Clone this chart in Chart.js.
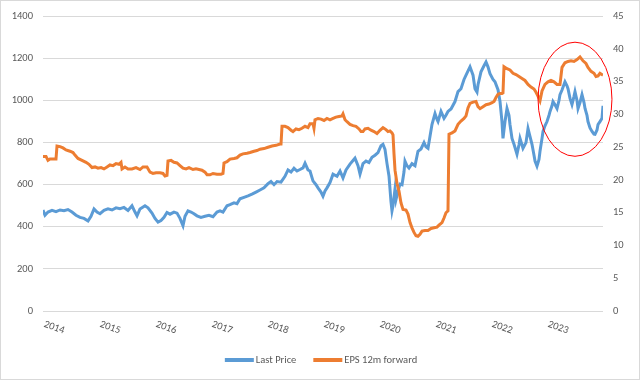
<!DOCTYPE html>
<html><head><meta charset="utf-8">
<script src="https://cdn.jsdelivr.net/npm/chart.js@4/dist/chart.umd.min.js"></script>
<style>html,body{margin:0;padding:0;background:#fff}#wrap{width:640px;height:380px;position:relative}</style>
</head><body><div id="wrap"><canvas id="c" width="640" height="380"></canvas></div>
<script>
const yearLabels = ['2014','2015','2016','2017','2018','2019','2020','2021','2022','2023'];
const seriesNames = ['Last Price', 'EPS 12m forward'];

const priceYears = [
2014.000,2014.036,2014.089,2014.161,2014.232,2014.304,2014.375,2014.446,2014.518,2014.589,2014.661,2014.732,2014.804,2014.857,2014.911,2014.964,
2015.018,2015.089,2015.161,2015.232,2015.304,2015.375,2015.446,2015.518,2015.589,2015.643,2015.679,2015.732,2015.821,2015.875,2015.946,
2016.000,2016.054,2016.107,2016.161,2016.214,2016.268,2016.339,2016.393,2016.446,2016.500,2016.536,2016.589,2016.643,2016.696,2016.750,2016.821,2016.893,2016.964,
2017.036,2017.107,2017.161,2017.214,2017.286,2017.339,2017.411,2017.464,2017.518,2017.589,2017.661,2017.732,2017.804,2017.875,2017.946,
2018.018,2018.071,2018.125,2018.179,2018.250,2018.321,2018.375,2018.429,2018.482,2018.536,2018.589,2018.643,2018.679,2018.732,2018.768,2018.821,2018.875,2018.911,2018.964,
2019.000,2019.036,2019.071,2019.125,2019.179,2019.250,2019.304,2019.357,2019.411,2019.482,2019.536,2019.571,2019.625,2019.661,2019.714,2019.768,2019.821,2019.875,2019.929,2019.982,
2020.036,2020.071,2020.107,2020.143,2020.179,2020.214,2020.232,2020.250,2020.286,2020.304,2020.339,2020.375,2020.411,2020.446,2020.464,2020.500,2020.536,2020.589,2020.643,2020.696,2020.750,2020.804,2020.839,2020.875,2020.911,2020.946,
2021.000,2021.036,2021.054,2021.107,2021.161,2021.196,2021.232,2021.286,2021.357,2021.411,2021.464,2021.518,2021.571,2021.625,2021.679,2021.714,2021.750,2021.768,2021.821,2021.875,2021.911,2021.946,2021.982,
2022.036,2022.071,2022.125,2022.161,2022.196,2022.214,2022.250,2022.286,2022.321,2022.339,2022.375,2022.411,2022.464,2022.500,2022.518,2022.571,2022.625,2022.661,2022.696,2022.732,2022.768,2022.786,2022.821,2022.857,2022.875,2022.911,2022.929,2022.964,
2023.000,2023.036,2023.054,2023.089,2023.107,2023.143,2023.179,2023.214,2023.232,2023.268,2023.321,2023.357,2023.375,2023.411,2023.446,2023.482,2023.500,2023.536,2023.554,2023.589,2023.625,2023.661,2023.679,2023.714,2023.732,2023.768,2023.804,2023.839,2023.857,2023.893,2023.911,2023.946,2023.982,2024.000
];
const priceValues = [
480,455,470,478,472,480,476,482,470,455,445,440,428,450,485,470,
462,478,485,480,490,486,492,478,500,470,452,485,500,490,465,
440,422,430,445,468,460,470,465,440,405,450,476,470,462,452,445,450,455,
448,470,476,470,500,505,514,510,533,540,547,555,565,575,585,
605,615,600,615,612,640,670,660,678,665,672,680,702,670,665,618,600,585,565,
545,570,585,610,650,640,665,632,670,698,715,726,690,650,700,712,705,730,740,752,
785,792,768,700,640,520,476,500,580,530,570,603,600,660,712,690,679,700,690,759,770,800,780,773,830,886,
938,910,900,948,915,930,948,960,995,1042,1056,1100,1130,1160,1120,1056,1040,1075,1136,1165,1183,1160,1127,
1100,1089,1051,995,900,820,900,962,930,886,820,792,745,790,820,773,800,867,830,792,740,712,688,720,759,820,853,880,
900,930,948,975,995,980,962,1000,1028,1050,1089,1070,1056,1010,981,1020,1042,1000,962,990,1028,990,962,930,900,870,853,840,839,860,886,900,915,975
];

const epsYears = [
2014.000,2014.054,2014.089,2014.125,2014.179,2014.232,2014.250,2014.304,2014.357,2014.411,2014.482,2014.536,2014.571,2014.625,2014.696,2014.768,2014.821,2014.875,2014.929,2014.982,
2015.036,2015.089,2015.143,2015.196,2015.250,2015.304,2015.357,2015.393,2015.411,2015.464,2015.518,2015.589,2015.661,2015.732,2015.786,2015.857,2015.911,2015.964,
2016.018,2016.089,2016.143,2016.179,2016.214,2016.232,2016.286,2016.339,2016.393,2016.446,2016.500,2016.554,2016.607,2016.679,2016.732,2016.786,2016.839,2016.893,2016.929,2016.982,
2017.036,2017.107,2017.179,2017.214,2017.232,2017.286,2017.339,2017.411,2017.464,2017.518,2017.571,2017.643,2017.696,2017.768,2017.821,2017.875,2017.946,
2018.018,2018.089,2018.161,2018.232,2018.250,2018.268,2018.321,2018.375,2018.429,2018.464,2018.518,2018.571,2018.625,2018.679,2018.732,2018.768,2018.821,2018.839,2018.857,2018.911,2018.964,
2019.018,2019.071,2019.125,2019.179,2019.232,2019.286,2019.339,2019.357,2019.393,2019.429,2019.482,2019.536,2019.589,2019.643,2019.679,2019.714,2019.750,2019.804,2019.857,2019.911,2019.964,
2020.018,2020.071,2020.125,2020.161,2020.196,2020.232,2020.250,2020.268,2020.286,2020.321,2020.357,2020.393,2020.429,2020.482,2020.518,2020.554,2020.589,2020.625,2020.661,2020.696,2020.732,2020.768,2020.821,2020.875,2020.929,2020.982,
2021.036,2021.071,2021.125,2021.161,2021.196,2021.232,2021.250,2021.304,2021.357,2021.411,2021.464,2021.518,2021.554,2021.589,2021.625,2021.679,2021.732,2021.768,2021.804,2021.857,2021.911,2021.964,
2022.018,2022.054,2022.089,2022.125,2022.161,2022.196,2022.214,2022.232,2022.286,2022.339,2022.393,2022.446,2022.500,2022.554,2022.607,2022.661,2022.714,2022.768,2022.804,2022.839,2022.875,2022.911,2022.964,
2023.018,2023.071,2023.125,2023.179,2023.232,2023.268,2023.321,2023.375,2023.429,2023.482,2023.536,2023.589,2023.643,2023.696,2023.732,2023.786,2023.839,2023.875,2023.911,2023.946,2024.000
];
const epsValues = [
23.6,23.6,23.0,23.2,23.2,23.2,25.2,25.1,24.9,24.6,24.4,24.2,23.8,23.3,23.0,22.7,22.4,21.9,22.0,21.8,
21.9,21.7,22.0,22.3,22.2,22.5,22.4,22.7,21.7,22.0,21.7,21.7,21.9,21.6,22.0,22.0,21.2,21.0,
21.1,21.1,21.0,20.6,20.7,22.9,23.0,22.7,22.6,22.2,21.8,21.7,21.9,21.6,21.7,21.6,21.5,21.2,20.8,20.8,
21.0,20.9,20.9,21.0,22.6,22.8,23.2,23.3,23.4,23.8,24.0,24.1,24.2,24.4,24.5,24.7,24.8,
25.0,25.2,25.3,25.5,25.5,28.2,28.2,28.0,27.6,27.4,27.8,27.7,27.9,28.2,28.0,28.6,28.6,27.9,29.2,29.4,29.3,
29.1,29.4,29.2,29.4,29.6,29.7,29.8,30.1,29.2,28.9,28.5,28.3,28.2,27.8,27.4,27.4,27.8,27.9,27.6,27.4,27.1,
27.6,28.0,27.7,27.4,27.5,27.2,26.9,24.0,21.5,19.5,18.3,16.5,15.5,15.4,14.8,13.5,12.7,12.0,11.5,11.4,11.7,12.2,12.3,12.3,12.6,12.7,
12.8,13.1,13.5,14.2,15.0,15.3,27.0,27.2,27.5,28.5,29.0,29.4,29.8,31.0,31.7,31.9,32.0,31.2,30.9,31.2,31.5,31.6,
31.8,32.0,32.6,33.1,33.2,33.2,33.3,37.3,37.0,36.8,36.3,36.1,35.8,35.5,35.2,34.6,34.2,33.9,33.4,32.8,32.1,33.6,34.6,
35.0,35.2,35.0,34.6,34.6,37.2,37.9,38.1,38.2,38.1,38.4,38.8,38.2,37.8,37.2,36.6,36.3,35.8,35.9,36.3,36.0
];

// highlighted region (red ellipse) in data units: centre year / price, radii
const highlight = { x: 2023.5, y: 1006, rx: 0.66, ry: 271 };

const FONT = "'Carlito','Liberation Sans',Arial,sans-serif";
const TXT = '#595959';

const decor = {
  id: 'decor',
  afterDraw(chart) {
    const ctx = chart.ctx, xs = chart.scales.x, ys = chart.scales.y, ca = chart.chartArea;
    ctx.save();
    const cx = xs.getPixelForValue(highlight.x), cy = ys.getPixelForValue(highlight.y);
    const rx = xs.getPixelForValue(highlight.x + highlight.rx) - cx;
    const ry = cy - ys.getPixelForValue(highlight.y + highlight.ry);
    ctx.beginPath(); ctx.ellipse(cx, cy, rx, ry, 0, 0, Math.PI * 2);
    ctx.strokeStyle = '#FF0000'; ctx.lineWidth = 1; ctx.stroke();
    ctx.font = '10.5px ' + FONT; ctx.fillStyle = TXT;
    ctx.textAlign = 'left'; ctx.textBaseline = 'top';
    yearLabels.forEach(l => {
      const px = xs.getPixelForValue(Number(l));
      ctx.save(); ctx.translate(px + 3, ca.bottom + 8); ctx.rotate(20 * Math.PI / 180);
      ctx.fillText(l, 0, 0); ctx.restore();
    });
    const colors = chart.data.datasets.map(d => d.borderColor);
    const sw = 29, gap = 2, itemGap = 17;
    const w = seriesNames.map(n => ctx.measureText(n).width);
    const total = sw + gap + w[0] + itemGap + sw + gap + w[1];
    let x = 321 - total / 2; const y = 360;
    ctx.textBaseline = 'middle';
    seriesNames.forEach((n, i) => {
      ctx.beginPath(); ctx.moveTo(x, y); ctx.lineTo(x + sw, y);
      ctx.strokeStyle = colors[i]; ctx.lineWidth = 4; ctx.lineCap = 'butt'; ctx.stroke();
      ctx.fillText(n, x + sw + gap, y);
      x += sw + gap + w[i] + itemGap;
    });
    ctx.strokeStyle = '#D9D9D9'; ctx.lineWidth = 1; ctx.strokeRect(0.5, 0.5, 639, 379);
    ctx.restore();
  }
};

new Chart(document.getElementById('c'), {
  type: 'line',
  data: {
    datasets: [
      { label: seriesNames[0], data: priceYears.map((x, i) => ({ x, y: priceValues[i] })), yAxisID: 'y',
        borderColor: '#5B9BD5', borderWidth: 3, pointRadius: 0, tension: 0, order: 2 },
      { label: seriesNames[1], data: epsYears.map((x, i) => ({ x, y: epsValues[i] })), yAxisID: 'y1',
        borderColor: '#ED7D31', borderWidth: 3, pointRadius: 0, tension: 0, order: 1 }
    ]
  },
  options: {
    responsive: false, animation: false, devicePixelRatio: 1,
    layout: { padding: { top: 14, left: 0, right: 0, bottom: 0 } },
    plugins: { legend: { display: false }, tooltip: { enabled: false } },
    scales: {
      x: { type: 'linear', min: 2014, max: 2024,
        ticks: { display: false }, grid: { display: false }, border: { display: false },
        afterFit: s => { s.height = 69; } },
      y: { position: 'left', min: 0, max: 1400,
        ticks: { stepSize: 200, padding: 10, color: TXT, font: { family: FONT, size: 10.5 }, callback: v => String(v) },
        grid: { color: '#D9D9D9', lineWidth: 1, drawTicks: false }, border: { display: false },
        afterFit: s => { s.width = 43; } },
      y1: { position: 'right', min: 0, max: 45,
        ticks: { stepSize: 5, padding: 10, color: TXT, font: { family: FONT, size: 10.5 }, callback: v => String(v) },
        grid: { display: false, drawTicks: false }, border: { display: false },
        afterFit: s => { s.width = 37; } }
    }
  },
  plugins: [decor]
});
</script></body></html>
